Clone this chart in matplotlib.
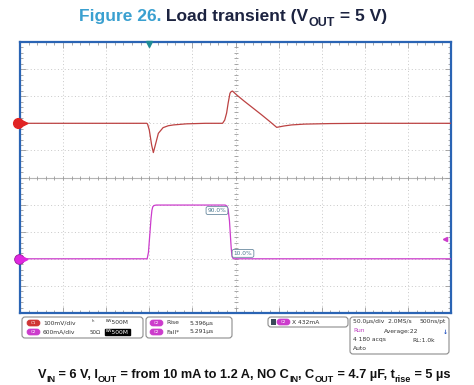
import numpy as np
import matplotlib.pyplot as plt
from matplotlib.patches import FancyBboxPatch

# scope settings
T_DIV = 50.0      # us/div
V_DIV = 100.0     # mV/div (ch1)
I_DIV = 0.6       # A/div (ch2)
CH1_POS = 2.0     # divisions
CH2_POS = -3.0

# ch1 : output voltage deviation (mV)
t_v = [0, 147, 148, 150, 152.7, 154.7, 157, 160.5, 166, 172, 178, 193, 215, 235,
       237.5, 239.7, 241.5, 243.6, 245, 246.5, 252, 260, 270, 280, 290, 297.8,
       301, 306, 315, 330, 360, 400, 500]
v_mv = [0, 0, -3, -25, -80, -108, -80, -37, -16, -9, -6, -2, 0, 0,
        12, 38, 75, 111, 117, 119, 103, 82, 57, 32, 6, -15,
        -13, -10, -6, -3, -1, 0, 0]

# ch2 : load current (A)
t_i = [0, 147.5, 149, 150, 151, 152, 153, 154, 155.5, 158, 200, 238, 240,
       241.5, 243, 244, 245, 246, 247.5, 500]
i_a = [0.01, 0.01, 0.15, 0.4, 0.65, 0.9, 1.08, 1.16, 1.19, 1.2, 1.2, 1.2, 1.18,
       1.1, 0.85, 0.55, 0.25, 0.06, 0.01, 0.01]

trig_t = 150.0
trig_level = 0.432

W, H = 474, 385
fig = plt.figure(figsize=(W / 100, H / 100), dpi=100)
fig.patch.set_facecolor('white')

# pixel overlay for title, caption and info panel
ov = fig.add_axes([0, 0, 1, 1], zorder=0)
ov.set_xlim(0, W)
ov.set_ylim(H, 0)
ov.axis('off')

ax = fig.add_axes([20 / W, 1 - 313 / H, 431 / W, 271 / H], zorder=2)
ax.set_xlim(0, 500)
ax.set_ylim(-5, 5)
ax.patch.set_alpha(0)

grid_c = '#c8c8c8'
for k in range(1, 10):
    ax.axvline(k * T_DIV, color=grid_c, lw=0.7, ls=(0, (1, 2.5)), zorder=1)
for k in range(-4, 5):
    if k == 0:
        ax.axhline(0, color='#b4b4b4', lw=0.8, zorder=1)
    else:
        ax.axhline(k, color=grid_c, lw=0.7, ls=(0, (1, 2.5)), zorder=1)

# ticks on the centre cross
xt = np.arange(0, 500.1, T_DIV / 5)
yt = np.arange(-5, 5.01, 0.2)
ax.plot(xt, np.zeros_like(xt), ls='none', marker='|', ms=3, mew=0.6, color='#9a9a9a', zorder=1)
ax.plot(np.full_like(yt, 250), yt, ls='none', marker='_', ms=3, mew=0.6, color='#9a9a9a', zorder=1)

ax.xaxis.set_ticks(np.arange(0, 501, T_DIV))
ax.xaxis.set_ticks(xt, minor=True)
ax.yaxis.set_ticks(np.arange(-5, 6, 1))
ax.yaxis.set_ticks(yt, minor=True)
ax.tick_params(which='both', direction='in', top=True, right=True, labelleft=False,
               labelbottom=False, color='#9a9a9a', width=0.6)
ax.tick_params(which='major', length=4)
ax.tick_params(which='minor', length=2)
for s in ax.spines.values():
    s.set_color('#2a64b4')
    s.set_linewidth(1.6)

red = '#bc4242'
mag = '#cc3ccc'
ax.plot(t_v, CH1_POS + np.array(v_mv) / V_DIV, color=red, lw=0.9, zorder=3)
ax.plot(t_i, CH2_POS + (np.array(i_a) - 0.01) / I_DIV, color=mag, lw=0.9, zorder=3)

# channel markers
ax.plot([-2], [CH1_POS], 'o', ms=7, color='#e02424', clip_on=False, zorder=6)
ax.plot([6], [CH1_POS], '>', ms=3.5, color='#e02424', clip_on=False, zorder=6)
ax.plot([-1], [CH2_POS], 'o', ms=7, color='#e028e0', mec='#9a1a9a', mew=0.6, clip_on=False, zorder=6)
ax.plot([6], [CH2_POS], '>', ms=3.5, color='#e028e0', clip_on=False, zorder=6)
ax.plot([trig_t], [4.93], 'v', ms=4.5, color='#1f8c96', clip_on=False, zorder=6)
ax.plot([493], [CH2_POS + trig_level / I_DIV], '<', ms=3, color=mag, clip_on=False, zorder=6)

# rise / fall cursor labels
lab = dict(fontsize=4.2, color='#4a7890', ha='center', va='center', zorder=7,
           bbox=dict(boxstyle='round,pad=0.25,rounding_size=0.3', fc='white', ec='#6a8aa0', lw=0.6))
ax.text(228.5, -1.22, '90.0%', **lab)
ax.text(258.7, -2.8, '10.0%', **lab)

# --- title and caption (rich text) ---
renderer = fig.canvas.get_renderer()


def rich(cx, base, parts, size):
    objs = []
    for s, col, sub in parts:
        fs = size * 0.72 if sub else size
        t = ov.text(0, base, s, fontsize=fs, color=col, fontweight='bold',
                    family='Liberation Sans', ha='left', va='baseline')
        objs.append((t, sub))
    widths = [t.get_window_extent(renderer).width for t, _ in objs]
    x = cx - sum(widths) / 2
    for (t, sub), w in zip(objs, widths):
        t.set_position((x, base + (size * 0.3 * 100 / 72 if sub else 0)))
        x += w


blue = '#3aa0d0'
navy = '#1c2340'
rich(233, 21, [('Figure 26.', blue, False), (' Load transient (V', navy, False),
               ('OUT', navy, True), (' = 5 V)', navy, False)], 12.5)
k = '#111111'
rich(244, 378, [('V', k, False), ('IN', k, True), (' = 6 V, I', k, False), ('OUT', k, True),
                (' = from 10 mA to 1.2 A, NO C', k, False), ('IN', k, True), (', C', k, False),
                ('OUT', k, True), (' = 4.7 µF, t', k, False), ('rise', k, True),
                (' = 5 µs', k, False)], 9.15)

# --- info panel under the screen ---
def box(x0, y0, x1, y1, fc='white', ec='#8c8c8c', r=3, lw=0.8):
    ov.add_patch(FancyBboxPatch((x0, y0), x1 - x0, y1 - y0,
                                boxstyle='round,pad=0,rounding_size=%g' % r,
                                fc=fc, ec=ec, lw=lw))


def pill(x0, yc, fc, label):
    box(x0, yc - 3, x0 + 13, yc + 3, fc=fc, ec=fc, r=3, lw=0.5)
    ov.text(x0 + 6.5, yc, label, fontsize=3, color='white', ha='center', va='center')


def ptxt(x, y, s, **kw):
    kw.setdefault('color', '#333333')
    kw.setdefault('fontsize', 4.3)
    ov.text(x, y, s, va='center', ha=kw.pop('ha', 'left'), **kw)


box(22, 317, 143, 338)
box(146, 317, 232, 338)
box(268, 317, 348, 327)
box(350, 317, 449, 354)

r1, r2 = 323, 332
pill(27, r1, '#d03434', 'C1')
ptxt(43, r1, '100mV/div')
ptxt(92, r1, 'ʰ')
ptxt(106, r1, 'ᴮᵂ500M')
pill(27, r2, '#cc3ccc', 'C2')
ptxt(43, r2, '600mA/div')
ptxt(90, r2, '50Ω', fontsize=4)
ptxt(106, r2, 'ᴮᵂ500M', color='white',
     bbox=dict(boxstyle='square,pad=0.15', fc='black', ec='black'))

pill(150, r1, '#cc3ccc', 'C2')
ptxt(166, r1, 'Rise')
ptxt(190, r1, '5.396µs')
pill(150, r2, '#cc3ccc', 'C2')
ptxt(166, r2, 'Fall*')
ptxt(190, r2, '5.291µs')

ov.add_patch(plt.Rectangle((271, 319), 5, 6, fc='#3a4a5a', ec='none'))
pill(277, 322, '#cc3ccc', 'C2')
ptxt(292, 322, 'X 432mA')

ptxt(353, 322, '50.0µs/div  2.0MS/s')
ptxt(446, 322, '500ns/pt', ha='right')
ptxt(353, 331, 'Run', color='#c040c0')
ptxt(384, 331, 'Average:22')
ptxt(443, 332, '↓', color='#2050c0', fontweight='bold')
ptxt(353, 340, '4 180 acqs')
ptxt(412, 340, 'RL:1.0k')
ptxt(353, 349, 'Auto')

fig.savefig('out.png', dpi=100)
